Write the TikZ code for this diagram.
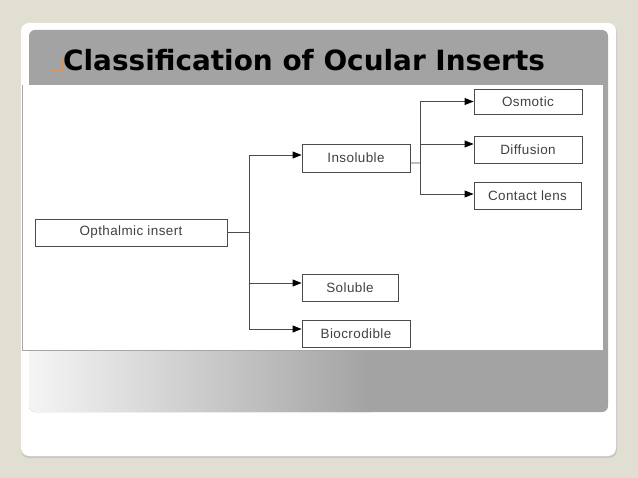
\documentclass[tikz,border=0pt]{standalone}
\usepackage{fontspec}
\setmainfont{Liberation Sans}
\newfontfamily\titlefont{DejaVu Sans}
\newfontfamily\boxfont[LetterSpace=3]{Liberation Sans}
\usetikzlibrary{arrows.meta,calc}
\definecolor{bgbeige}{RGB}{225,222,210}
\definecolor{panelgray}{RGB}{163,163,163}
\definecolor{lineclr}{RGB}{75,75,75}
\definecolor{txtclr}{RGB}{65,65,65}
\definecolor{orangebox}{RGB}{210,150,95}
\begin{document}
\begin{tikzpicture}[x=1bp,y=-1bp,
  box/.style={draw=lineclr, line width=0.9bp, fill=white, font=\boxfont\fontsize{13.5}{15}\selectfont, text=txtclr, inner sep=0pt, minimum height=27bp},
  arr/.style={draw=lineclr, line width=0.9bp, -{Triangle[length=9bp,width=7bp,fill=black,color=black]}},
  conn/.style={draw=lineclr, line width=0.9bp}]
\useasboundingbox (0,0) rectangle (638,478);
\fill[bgbeige] (0,0) rectangle (638,478);
% card with shadow
\fill[black!22, rounded corners=8bp] (21,25) rectangle (617,458);
\fill[white, rounded corners=8bp] (21,23) rectangle (616,456);
% gray panel
\fill[panelgray, rounded corners=6bp] (29,30) rectangle (608,412);
\begin{scope}
  \clip[rounded corners=6bp] (29,30) rectangle (608,412);
  \shade[left color=white!96!black, right color=panelgray] (29,350) rectangle (370,412);
\end{scope}
% diagram area
\fill[white] (22,85) rectangle (603,350);
\draw[black!35, line width=0.8bp] (22,85) -- (22,350) -- (603,350);
% title
\draw[orangebox, line width=0.4bp] (51.5,57.5) rectangle (62.5,70.5);
\node[anchor=base west, font=\titlefont\bfseries\fontsize{28}{30}\selectfont, inner sep=0pt] (title) at (63,71) {Classification of Ocular Inserts};
% nodes
\node[box, minimum width=192bp] (op) at (131,232.5) {Opthalmic insert};
\node[box, minimum width=108bp, minimum height=28bp] (ins) at (356,158) {Insoluble};
\node[box, minimum width=96bp] (sol) at (350,287.5) {Soluble};
\node[box, minimum width=108bp] (bio) at (356,333.5) {Biocrodible};
\node[box, minimum width=108bp, minimum height=25bp] (osm) at (528,101.5) {Osmotic};
\node[box, minimum width=108bp] (dif) at (528,149.5) {Diffusion};
\node[box, minimum width=107bp] (con) at (527.5,195.5) {Contact lens};
% connectors
\coordinate (j1) at (249,232.5);
\coordinate (j2) at (420,163);
\draw[conn] (op.east) -- (j1);
\draw[arr] (j1) |- ([yshift=3bp]ins.west);
\draw[arr] (j1) |- ([yshift=4.5bp]sol.west);
\draw[arr] (j1) |- ([yshift=4.5bp]bio.west);
\draw[conn] ([yshift=-5bp]ins.east) -- (j2);
\draw[arr] (j2) |- (osm.west);
\draw[arr] (j2) |- ([yshift=5.5bp]dif.west);
\draw[arr] (j2) |- ([yshift=1.5bp]con.west);
\end{tikzpicture}
\end{document}
